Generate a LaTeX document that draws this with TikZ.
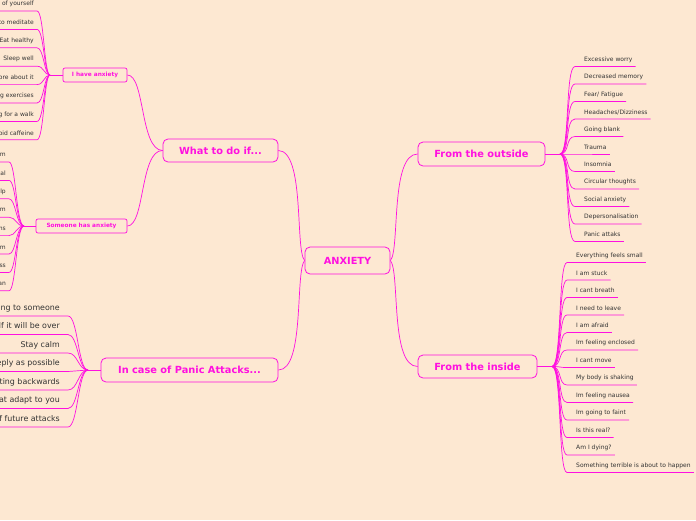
\documentclass[tikz,border=0pt]{standalone}
\usepackage{fontspec}
\setmainfont{DejaVu Sans}
\definecolor{bg}{HTML}{FDE8D2}
\definecolor{mag}{HTML}{FF10E0}
\definecolor{txt}{HTML}{333333}
\begin{document}
\begin{tikzpicture}[x=1pt,y=-1pt,
 box/.style={draw=mag,line width=0.8pt,rounded corners=5pt,fill=bg,text=mag,font=\bfseries\fontsize{9.8}{11}\selectfont,inner sep=0pt},
 sbox/.style={draw=mag,line width=0.7pt,rounded corners=2pt,fill=bg,text=mag,font=\bfseries\fontsize{5.8}{6}\selectfont,inner sep=0pt},
 leaf/.style={text=txt,font=\fontsize{6}{7}\selectfont,inner sep=0pt},
 bleaf/.style={text=txt,font=\fontsize{7.9}{9}\selectfont,inner sep=0pt},
 con/.style={draw=mag,line width=0.7pt}]
\fill[bg] (0,0) rectangle (696,520);
\useasboundingbox (0,0) rectangle (696,520);
% main boxes
\node[box,minimum width=85pt,minimum height=27pt] (c) at (347.5,260.5) {ANXIETY};
\node[box,minimum width=115pt,minimum height=23pt] (w) at (220.5,150.5) {What to do if...};
\node[box,minimum width=127pt,minimum height=24pt] (o) at (481.5,154) {From the outside};
\node[box,minimum width=119pt,minimum height=23pt] (i) at (477.5,366.5) {From the inside};
\node[box,minimum width=177pt,minimum height=24pt] (p) at (189.5,370) {In case of Panic Attacks...};
\node[sbox,minimum width=64pt,minimum height=14pt] (h) at (95,75) {I have anxiety};
\node[sbox,minimum width=91pt,minimum height=14pt] (s) at (81.5,226) {Someone has anxiety};
% center links
\draw[con] (c.west) .. controls (295,250) and (305,151) .. (w.east);
\draw[con] (c.west) .. controls (295,272) and (305,370) .. (p.east);
\draw[con] (c.east) .. controls (400,250) and (390,154) .. (o.west);
\draw[con] (c.east) .. controls (400,272) and (390,366.5) .. (i.west);
\draw[con] (w.west) .. controls (140,150) and (145,75) .. (h.east);
\draw[con] (w.west) .. controls (140,150) and (145,226) .. (s.east);
% outside leaves
\coordinate (oh) at (560,154);
\draw[con] (o.east) -- (oh);
\foreach \t [count=\k] in {Excessive worry,Decreased memory,Fear/ Fatigue,Headaches/Dizziness,Going blank,Trauma,Insomnia,Circular thoughts,Social anxiety,Depersonalisation,Panic attaks}{
  \pgfmathsetmacro\yy{59.5+17.5*(\k-1)}
  \node[leaf,anchor=west] (o\k) at (584,\yy) {\t};
  \draw[con] (oh) .. controls (570,154) and (565,\yy+7) .. (575,\yy+7) -- ([xshift=3pt]o\k.east |- 0,\yy+7);
}
% inside leaves
\coordinate (ih) at (552,366.5);
\draw[con] (i.east) -- (ih);
\foreach \t [count=\k] in {Everything feels small,I am stuck,I cant breath,I need to leave,I am afraid,Im feeling enclosed,I cant move,My body is shaking,Im feeling nausea,Im going to faint,Is this real?,Am I dying?,Something terrible is about to happen}{
  \pgfmathsetmacro\yy{255.5+17.5*(\k-1)}
  \node[leaf,anchor=west] (n\k) at (576,\yy) {\t};
  \draw[con] (ih) .. controls (562,366.5) and (558,\yy+7) .. (567,\yy+7) -- ([xshift=3pt]n\k.east |- 0,\yy+7);
}
% I have anxiety leaves
\coordinate (hh) at (50,75);
\draw[con] (h.west) -- (hh);
\foreach \t [count=\k] in {Take care of yourself,Learn to meditate,Eat healthy,Sleep well,Learn more about it,Breathing exercises,Going for a walk,Avoid caffeine}{
  \pgfmathsetmacro\yy{4+18.4*(\k-1)}
  \node[leaf,anchor=east] (h\k) at (34,\yy) {\t};
  \draw[con] (hh) .. controls (44,75) and (44,\yy+7) .. (37,\yy+7) -- (-5,\yy+7);
}
% someone has anxiety leaves
\coordinate (sh) at (24,226);
\draw[con] (s.west) -- (sh);
\foreach \t [count=\k] in {Stay calm,Be practical,Offer help,Don't judge them,Ask about symptoms,Listen to them,Show kindness,Make a plan}{
  \pgfmathsetmacro\yy{155+18.4*(\k-1)}
  \node[leaf,anchor=east] (s\k) at (6,\yy) {\t};
  \draw[con] (sh) .. controls (16,226) and (16,\yy+7) .. (9,\yy+7) -- (-5,\yy+7);
}
% panic leaves
\coordinate (ph) at (88,370);
\draw[con] (p.west) -- (ph);
\foreach \t [count=\k] in {Keep talking to someone,Remind yourself it will be over,Stay calm,Breathe as deeply as possible,Try counting backwards,Find a method that adapt to you,Be aware of future attacks}{
  \pgfmathsetmacro\yy{308+18.5*(\k-1)}
  \node[bleaf,anchor=east] (p\k) at (60,\yy) {\t};
  \draw[con] (ph) .. controls (78,370) and (78,\yy+8) .. (68,\yy+8) -- (-5,\yy+8);
}
\end{tikzpicture}
\end{document}
